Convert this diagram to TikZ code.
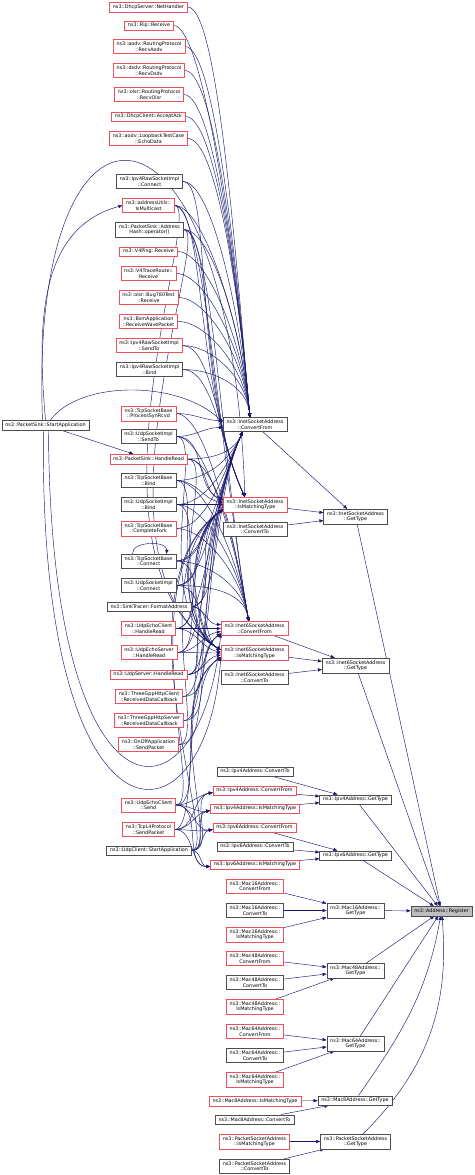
\documentclass[tikz,border=0pt]{standalone}
\usepackage{fontspec}
\setmainfont{DejaVu Sans}
\usetikzlibrary{arrows.meta,calc}
\definecolor{edgec}{HTML}{191970}
\definecolor{truncc}{HTML}{F0505C}
\definecolor{fnc}{HTML}{4D4D4D}
\definecolor{rootfill}{HTML}{BFBFBF}
\pgfdeclarelayer{bgl}
\pgfdeclarelayer{edgel}
\pgfsetlayers{bgl,edgel,main}
\tikzset{
 box/.style={draw, fill=white, align=center, font=\fontsize{4.85}{5.6}\selectfont, inner xsep=3.4pt, inner ysep=2.2pt, minimum height=9.5pt, line width=0.5pt},
 fn/.style={box, draw=fnc},
 trunc/.style={box, draw=truncc},
 rootfn/.style={box, draw=fnc, fill=rootfill},
 calls/.style={draw=edgec, line width=0.45pt, -{Triangle[length=4pt,width=3.2pt]}},
}
\begin{document}
\begin{tikzpicture}[x=1pt,y=1pt]
\begin{pgfonlayer}{bgl}
\fill[white] (0,0) rectangle (474,-1175);
\end{pgfonlayer}
\useasboundingbox (0,0) rectangle (474,-1175);

% left column
\node[trunc] (n1) at (148.5,-7) {ns3::DhcpServer::NetHandler};
\node[trunc] (n2) at (149,-25.5) {ns3::Rip::Receive};
\node[trunc] (n3) at (149,-46.5) {ns3::aodv::RoutingProtocol\\::RecvAodv};
\node[trunc] (n4) at (149,-70.5) {ns3::dsdv::RoutingProtocol\\::RecvDsdv};
\node[trunc] (n5) at (149,-94.5) {ns3::olsr::RoutingProtocol\\::RecvOlsr};
\node[trunc] (n6) at (148.5,-116.5) {ns3::DhcpClient::AcceptAck};
\node[trunc] (n7) at (148.5,-138.5) {ns3::aodv::LoopbackTestCase\\::EchoData};
\node[fn] (n8) at (149.5,-181.5) {ns3::Ipv4RawSocketImpl\\::Connect};
\node[trunc] (n9) at (148.5,-205.5) {ns3::addressUtils::\\IsMulticast};
\node[fn] (n10) at (149.5,-229.5) {ns3::PacketSink::Address\\Hash::operator()};
\node[trunc] (n11) at (148.5,-251.5) {ns3::V4Ping::Receive};
\node[trunc] (n12) at (148.5,-273.5) {ns3::V4TraceRoute::\\Receive};
\node[trunc] (n13) at (148.5,-297.5) {ns3::olsr::Bug780Test\\::Receive};
\node[trunc] (n14) at (148.5,-321.5) {ns3::BsmApplication\\::ReceiveWavePacket};
\node[trunc] (n15) at (149,-345.5) {ns3::Ipv4RawSocketImpl\\::SendTo};
\node[fn] (n16) at (149.5,-369.5) {ns3::Ipv4RawSocketImpl\\::Bind};
\node[fn] (ps) at (45.5,-425) {ns3::PacketSink::StartApplication};
\node[trunc] (n17) at (148.5,-413.5) {ns3::TcpSocketBase\\::ProcessSynRcvd};
\node[fn] (n18) at (148.5,-436.5) {ns3::UdpSocketImpl\\::SendTo};
\node[trunc] (n19) at (148.5,-459) {ns3::PacketSink::HandleRead};
\node[fn] (n20) at (148.5,-480.5) {ns3::TcpSocketBase\\::Bind};
\node[fn] (n21) at (148.5,-504.5) {ns3::UdpSocketImpl\\::Bind};
\node[trunc] (n22) at (148.5,-528.5) {ns3::TcpSocketBase\\::CompleteFork};
\node[fn] (n23) at (148.5,-561) {ns3::TcpSocketBase\\::Connect};
\node[fn] (n24) at (148.5,-585.5) {ns3::UdpSocketImpl\\::Connect};
\node[fn] (n25) at (149,-606.5) {ns3::SinkTracer::FormatAddress};
\node[trunc] (n26) at (148.5,-628.5) {ns3::UdpEchoClient\\::HandleRead};
\node[trunc] (n27) at (149,-652.5) {ns3::UdpEchoServer\\::HandleRead};
\node[trunc] (n28) at (148.5,-674.5) {ns3::UdpServer::HandleRead};
\node[trunc] (n29) at (149,-696.5) {ns3::ThreeGppHttpClient\\::ReceivedDataCallback};
\node[trunc] (n30) at (149,-720.5) {ns3::ThreeGppHttpServer\\::ReceivedDataCallback};
\node[trunc] (n31) at (148.5,-744.5) {ns3::OnOffApplication\\::SendPacket};
\node[trunc] (n32) at (148.5,-805) {ns3::UdpEchoClient\\::Send};
\node[trunc] (n33) at (148.5,-829.5) {ns3::TcpL4Protocol\\::SendPacket};
\node[fn] (n34) at (149,-850.5) {ns3::UdpClient::StartApplication};

% middle column
\node[fn] (isacf) at (255,-424.5) {ns3::InetSocketAddress\\::ConvertFrom};
\node[trunc] (isaimt) at (255,-504.5) {ns3::InetSocketAddress\\::IsMatchingType};
\node[fn] (isact) at (255,-529) {ns3::InetSocketAddress\\::ConvertTo};
\node[trunc] (i6cf) at (254.5,-628.5) {ns3::Inet6SocketAddress\\::ConvertFrom};
\node[trunc] (i6imt) at (254.5,-653) {ns3::Inet6SocketAddress\\::IsMatchingType};
\node[fn] (i6ct) at (254.5,-677.5) {ns3::Inet6SocketAddress\\::ConvertTo};
\node[fn] (v4ct) at (255,-771.5) {ns3::Ipv4Address::ConvertTo};
\node[trunc] (v4cf) at (254.5,-790.5) {ns3::Ipv4Address::ConvertFrom};
\node[trunc] (v4imt) at (255,-808.5) {ns3::Ipv4Address::IsMatchingType};
\node[trunc] (v6cf) at (254.5,-827.5) {ns3::Ipv6Address::ConvertFrom};
\node[fn] (v6ct) at (255,-846.5) {ns3::Ipv6Address::ConvertTo};
\node[trunc] (v6imt) at (255,-864.5) {ns3::Ipv6Address::IsMatchingType};
\node[trunc] (m16cf) at (255,-886) {ns3::Mac16Address::\\ConvertFrom};
\node[fn] (m16ct) at (255,-910.5) {ns3::Mac16Address::\\ConvertTo};
\node[trunc] (m16imt) at (255,-934.5) {ns3::Mac16Address::\\IsMatchingType};
\node[trunc] (m48cf) at (255,-958.5) {ns3::Mac48Address::\\ConvertFrom};
\node[fn] (m48ct) at (255,-982.5) {ns3::Mac48Address::\\ConvertTo};
\node[trunc] (m48imt) at (255,-1006.5) {ns3::Mac48Address::\\IsMatchingType};
\node[trunc] (m64cf) at (255,-1031.5) {ns3::Mac64Address::\\ConvertFrom};
\node[fn] (m64ct) at (255,-1055.5) {ns3::Mac64Address::\\ConvertTo};
\node[trunc] (m64imt) at (255,-1079.5) {ns3::Mac64Address::\\IsMatchingType};
\node[trunc] (m8imt) at (255,-1101) {ns3::Mac8Address::IsMatchingType};
\node[fn] (m8ct) at (254.5,-1119.5) {ns3::Mac8Address::ConvertTo};
\node[trunc] (psaimt) at (254.5,-1141.5) {ns3::PacketSocketAddress\\::IsMatchingType};
\node[fn] (psact) at (254.5,-1166) {ns3::PacketSocketAddress\\::ConvertTo};

% GetType column
\node[fn] (isagt) at (355.5,-516.5) {ns3::InetSocketAddress\\::GetType};
\node[fn] (i6gt) at (355.5,-665.5) {ns3::Inet6SocketAddress\\::GetType};
\node[fn] (v4gt) at (355.5,-799.5) {ns3::Ipv4Address::GetType};
\node[fn] (v6gt) at (355.5,-855.5) {ns3::Ipv6Address::GetType};
\node[fn] (m16gt) at (355.5,-910.5) {ns3::Mac16Address::\\GetType};
\node[fn] (m48gt) at (355.5,-970.5) {ns3::Mac48Address::\\GetType};
\node[fn] (m64gt) at (355.5,-1043.5) {ns3::Mac64Address::\\GetType};
\node[fn] (m8gt) at (355,-1100.5) {ns3::Mac8Address::GetType};
\node[fn] (psagt) at (355.5,-1141.5) {ns3::PacketSocketAddress\\::GetType};

\node[rootfn] (reg) at (441.5,-911) {ns3::Address::Register};

\begin{pgfonlayer}{edgel}
% to Register
\foreach \s in {isagt,i6gt,v4gt,v6gt,m16gt,m48gt,m64gt}
  \draw[calls] (\s) -- (reg);
\draw[calls] (m8gt) to[out=55,in=-100] (reg);
\draw[calls] (psagt) to[out=45,in=-85] (reg);
% to GetType
\foreach \s in {isacf,isaimt,isact} \draw[calls] (\s) -- (isagt);
\foreach \s in {i6cf,i6imt,i6ct} \draw[calls] (\s) -- (i6gt);
\foreach \s in {v4ct,v4cf,v4imt} \draw[calls] (\s) -- (v4gt);
\foreach \s in {v6cf,v6ct,v6imt} \draw[calls] (\s) -- (v6gt);
\foreach \s in {m16cf,m16ct,m16imt} \draw[calls] (\s) -- (m16gt);
\foreach \s in {m48cf,m48ct,m48imt} \draw[calls] (\s) -- (m48gt);
\foreach \s in {m64cf,m64ct,m64imt} \draw[calls] (\s) -- (m64gt);
\foreach \s in {m8imt,m8ct} \draw[calls] (\s) -- (m8gt);
\foreach \s in {psaimt,psact} \draw[calls] (\s) -- (psagt);

% InetSocketAddress::ConvertFrom
\foreach \s in {n1,n2,n3,n4,n5,n6,n7,n8,n9,n10,n11,n12,n13,n14,n15,n16}
  \draw[calls] (\s.east) to[out=0,in=95,out max distance=30] ([xshift=27pt]isacf.north west);
\draw[calls] (n17.east) to[out=0,in=180] ([yshift=4pt]isacf.west);
\draw[calls] (n18.east) to[out=0,in=180] ([yshift=-3pt]isacf.west);
\foreach \s in {n19,n20,n21,n22,n23,n24,n25,n26,n27,n28,n29,n30,n33}
  \draw[calls] (\s.east) to[out=0,in=245,out max distance=30] ([xshift=20pt]isacf.south west);

% InetSocketAddress::IsMatchingType
\foreach \s in {n8,n9,n10,n15,n16}
  \draw[calls] (\s.east) to[out=0,in=115,out max distance=30] ([xshift=22pt]isaimt.north west);
\draw[calls] (n18.east) to[out=0,in=160] ([yshift=5pt]isaimt.west);
\draw[calls] (n19.east) to[out=0,in=165] ([yshift=5pt]isaimt.west);
\draw[calls] (n20.east) to[out=0,in=170] ([yshift=2pt]isaimt.west);
\draw[calls] (n21.east) to[out=0,in=180] (isaimt.west);
\foreach \s in {n23,n24,n25,n26,n27,n28,n31,n32,n34}
  \draw[calls] (\s.east) to[out=0,in=215,out max distance=30] ([yshift=-5pt]isaimt.west);

% Inet6SocketAddress::ConvertFrom
\foreach \s in {n9,n10,n17,n18,n19,n20,n21,n22,n23,n24}
  \draw[calls] (\s.east) to[out=0,in=100,out max distance=30] ([xshift=28pt]i6cf.north west);
\draw[calls] (n25.east) to[out=0,in=180] ([yshift=4pt]i6cf.west);
\draw[calls] (n26.east) to[out=0,in=180] (i6cf.west);
\draw[calls] (n27.east) to[out=0,in=190] ([yshift=-3pt]i6cf.west);
\foreach \s in {n28,n29,n30}
  \draw[calls] (\s.east) to[out=0,in=215,out max distance=30] ([yshift=-5pt]i6cf.west);

% Inet6SocketAddress::IsMatchingType
\foreach \s in {n9,n10,n18,n19,n20,n21,n23,n24,n25}
  \draw[calls] (\s.east) to[out=0,in=150,out max distance=30] ([yshift=3pt]i6imt.west);
\draw[calls] (n26.east) to[out=0,in=170] ([yshift=1pt]i6imt.west);
\draw[calls] (n27.east) to[out=0,in=180] (i6imt.west);
\draw[calls] (n28.east) to[out=0,in=190] ([yshift=-2pt]i6imt.west);
\foreach \s in {n31,n32,n34}
  \draw[calls] (\s.east) to[out=0,in=215,out max distance=30] ([yshift=-4pt]i6imt.west);

% Ipv4 / Ipv6 address
\foreach \s in {n32,n33,n34} {
  \draw[calls] (\s.east) to[out=0,in=190] ([yshift=-2pt]v4cf.west);
  \draw[calls] (\s.east) to[out=0,in=190] ([yshift=-2pt]v4imt.west);
  \draw[calls] (\s.east) to[out=0,in=190] ([yshift=-2pt]v6cf.west);
  \draw[calls] (\s.east) to[out=0,in=180] ([yshift=-2pt]v6imt.west);
}

% PacketSink::StartApplication
\draw[calls] (ps.north) to[out=95,in=195] (n9.west);
\draw[calls] ([xshift=-3pt]ps.north) .. controls (28,-60) and (230,-65) .. ([xshift=22pt]isaimt.north west);
\draw[calls] ([xshift=5pt]ps.north) .. controls (80,-380) and (180,-380) .. ([yshift=2pt]isacf.west);
\draw[calls] (ps) -- (n19);
\draw[calls] ([xshift=-2pt]ps.south) .. controls (38,-860) and (205,-860) .. ([yshift=-4pt]i6imt.west);
\draw[calls] ([xshift=3pt]ps.south) .. controls (50,-835) and (200,-835) .. ([yshift=-5pt]i6cf.west);

% self call
\draw[calls] ([xshift=-16pt]n23.north) to[out=95,in=85] ([xshift=18pt]n23.north);
\end{pgfonlayer}
\end{tikzpicture}
\end{document}
